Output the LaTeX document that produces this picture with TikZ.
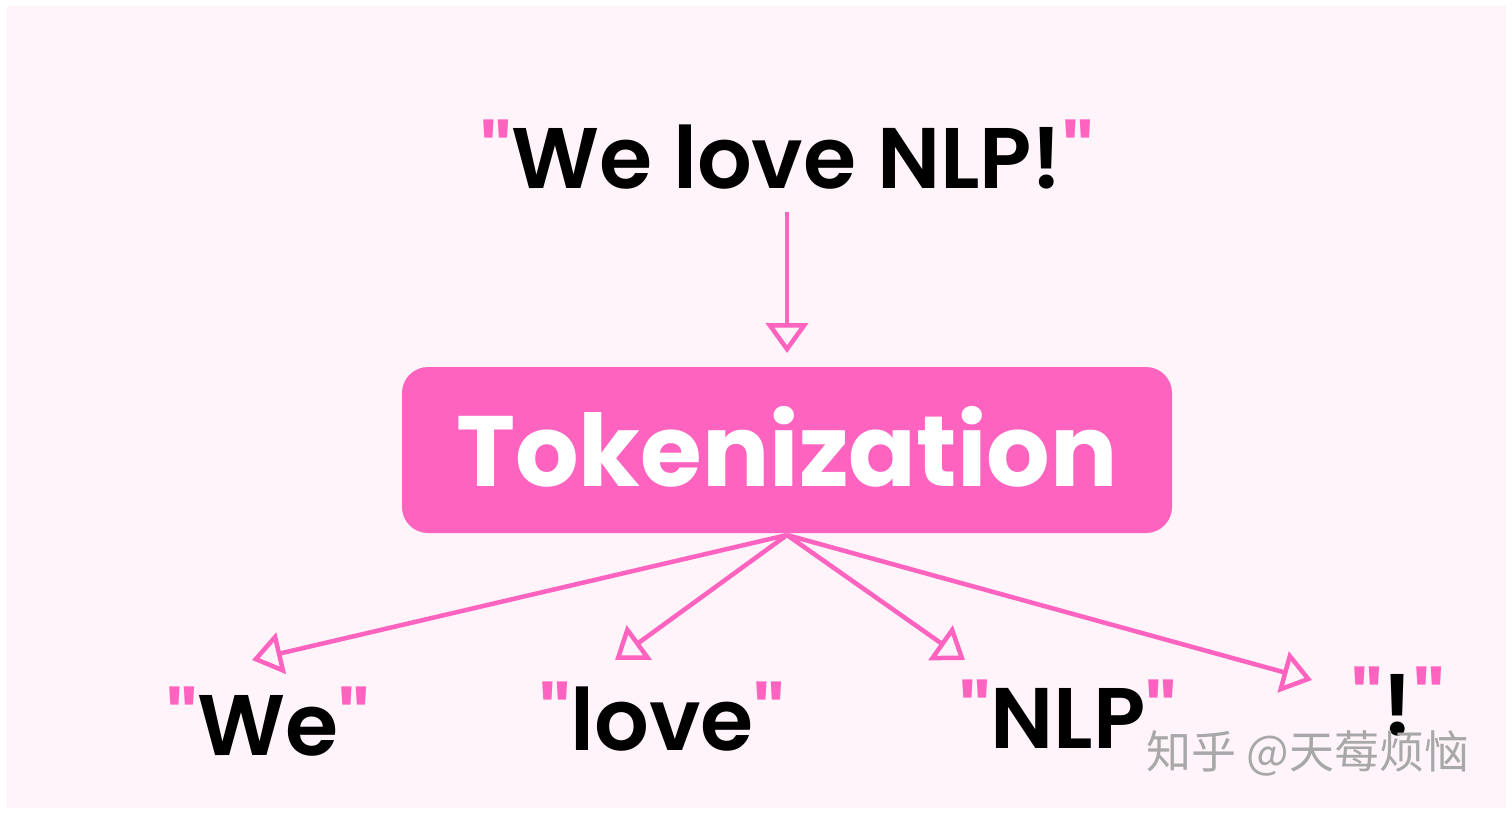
\documentclass[tikz,border=0pt]{standalone}
\usepackage{fontspec}
\setmainfont{Poppins}
\newfontfamily\handfont{Poppins SemiBold}
\newfontfamily\cjk{Noto Sans CJK SC}
\usetikzlibrary{arrows.meta}

\definecolor{hotpink}{HTML}{FF63C0}
\definecolor{blush}{HTML}{FEF4F9}
\definecolor{markgray}{HTML}{A8A8A8}

% pink straight quotes round a word
\newcommand{\quoted}[1]{\textcolor{hotpink}{"}#1\textcolor{hotpink}{"}}

\tikzset{
  word/.style={anchor=base, inner sep=0pt, font=\handfont\fontsize{86}{96}\selectfont},
  flow/.style={draw=hotpink, line width=4.5pt, -{Triangle[open, length=30pt, width=42pt, line width=4.5pt]}},
  tokbox/.style={fill=hotpink, rounded corners=26pt, minimum width=770pt, minimum height=166pt,
    text=white, font=\bfseries\fontsize{100}{100}\selectfont}
}

\begin{document}
\begin{tikzpicture}[x=1pt, y=-1pt]

% Background with thin white margin
\useasboundingbox (0,0) rectangle (1512,814);
\fill[white] (0,0) rectangle (1512,814);
\fill[blush] (7,6) rectangle (1506,808);

% Sentence and the tokenizer box
\node[word] (sent) at (787,188) {\quoted{We love NLP!}};
\node[tokbox] (tok) at (787,450) {\raisebox{7pt}{Tokenization}};

% Tokens
\node[word] (we) at (268,755) {\quoted{We}};
\node[word] (love) at (662,750) {\quoted{love}};
\node[word] (nlp) at (1068,748) {\quoted{NLP}};
\node[word] (bang) at (1398,735) {\quoted{!}};

% Arrow ends
\coordinate (in) at (787,212);
\coordinate (tipIn) at (787,353);
\coordinate (fan) at (787,535);
\coordinate (tipWe) at (252,660);
\coordinate (tipLove) at (615,660);
\coordinate (tipNlp) at (965,660);
\coordinate (tipBang) at (1312,680);

% Draw the arrows
\draw[flow] (in) -- (tipIn);
\draw[flow] (fan) -- (tipWe);
\draw[flow] (fan) -- (tipLove);
\draw[flow] (fan) -- (tipNlp);
\draw[flow] (fan) -- (tipBang);

% Watermark
\node[anchor=base, text=markgray, font=\cjk\fontsize{45}{48}\selectfont] (mark) at (1308,768) {知乎 @天莓烦恼};

\end{tikzpicture}
\end{document}
